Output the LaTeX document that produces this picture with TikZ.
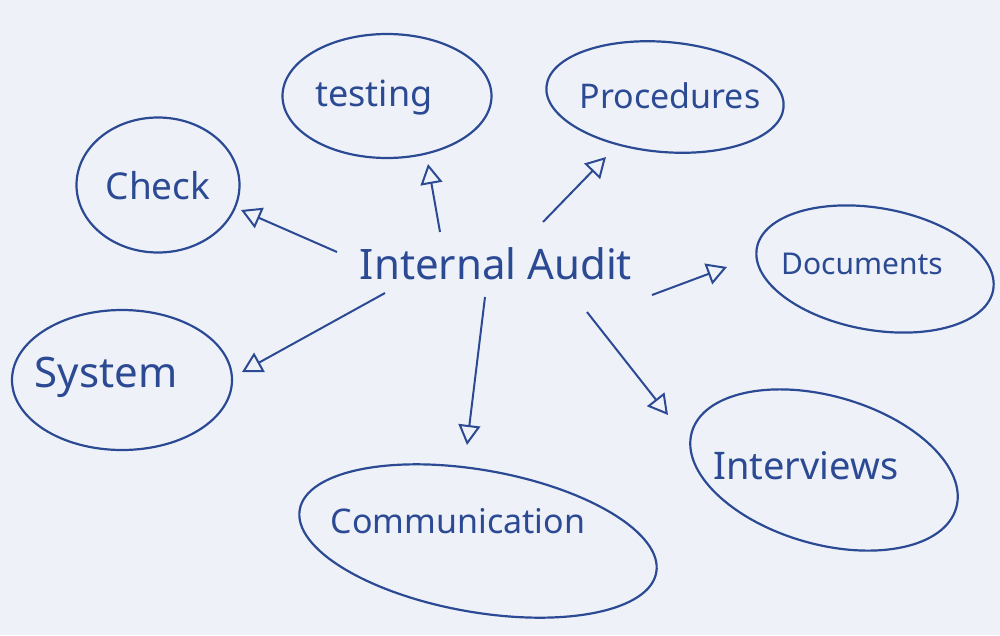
\documentclass[tikz,border=0pt]{standalone}
\usepackage{fontspec}
\setmainfont{Noto Sans}
\usetikzlibrary{shapes.geometric,arrows.meta,calc}
\definecolor{ink}{HTML}{2C4A94}
\definecolor{paper}{HTML}{EEF2F8}
\tikzset{
  bubble/.style={draw=ink, line width=2.2pt, ellipse, inner sep=0pt},
  word/.style={text=ink, inner sep=0pt, anchor=center},
  arr/.style={draw=ink, line width=2pt, -{Triangle[open, length=20pt, width=22pt, line width=2pt]}},
}
\newcommand{\fs}[1]{\fontsize{#1}{#1}\selectfont}
\begin{document}
\begin{tikzpicture}[x=1pt, y=-1pt]
  \fill[paper] (0,0) rectangle (1000,635);
  \useasboundingbox (0,0) rectangle (1000,635);

  % ellipses
  \node[bubble, minimum width=209pt, minimum height=124pt] (testing) at (387,96) {};
  \node[bubble, minimum width=238pt, minimum height=110pt, rotate=-5] (procedures) at (665,97) {};
  \node[bubble, minimum width=163pt, minimum height=135pt] (check) at (158,185) {};
  \node[bubble, minimum width=240pt, minimum height=122pt, rotate=-10] (documents) at (875,269) {};
  \node[bubble, minimum width=220pt, minimum height=140pt] (system) at (122,380) {};
  \node[bubble, minimum width=362pt, minimum height=142pt, rotate=-10] (communication) at (478,541) {};
  \node[bubble, minimum width=275pt, minimum height=148pt, rotate=-16] (interviews) at (824,470) {};

  % labels
  \node[word, font=\fs{36}] (tTesting) at (374,98) {testing};
  \node[word, font=\fs{34}] (tProcedures) at (670,96) {Procedures};
  \node[word, font=\fs{37}] (tCheck) at (158,186) {Check};
  \node[word, font=\fs{30}] (tDocuments) at (862,264) {Documents};
  \node[word, font=\fs{42}] (tSystem) at (106,377) {System};
  \node[word, font=\fs{34}] (tCommunication) at (458,521) {Communication};
  \node[word, font=\fs{38}] (tInterviews) at (806,466) {Interviews};
  \node[word, font=\fs{42}] (audit) at (496,264) {Internal Audit};

  % connectors
  \draw[arr] ($(audit)+(-159,-12)$) -- ($(check)+(83,25)$);
  \draw[arr] ($(audit)+(-56,-32)$) -- ($(testing)+(41,68)$);
  \draw[arr] ($(audit)+(47,-42)$) -- ($(procedures)+(-59,60)$);
  \draw[arr] ($(audit)+(156,31)$) -- ($(documents)+(-148,-2)$);
  \draw[arr] ($(audit)+(-111,29)$) -- ($(system)+(120,-8)$);
  \draw[arr] ($(audit)+(-11,33)$) -- ($(communication)+(-11,-96)$);
  \draw[arr] ($(audit)+(91,48)$) -- ($(interviews)+(-156,-55)$);
\end{tikzpicture}
\end{document}
